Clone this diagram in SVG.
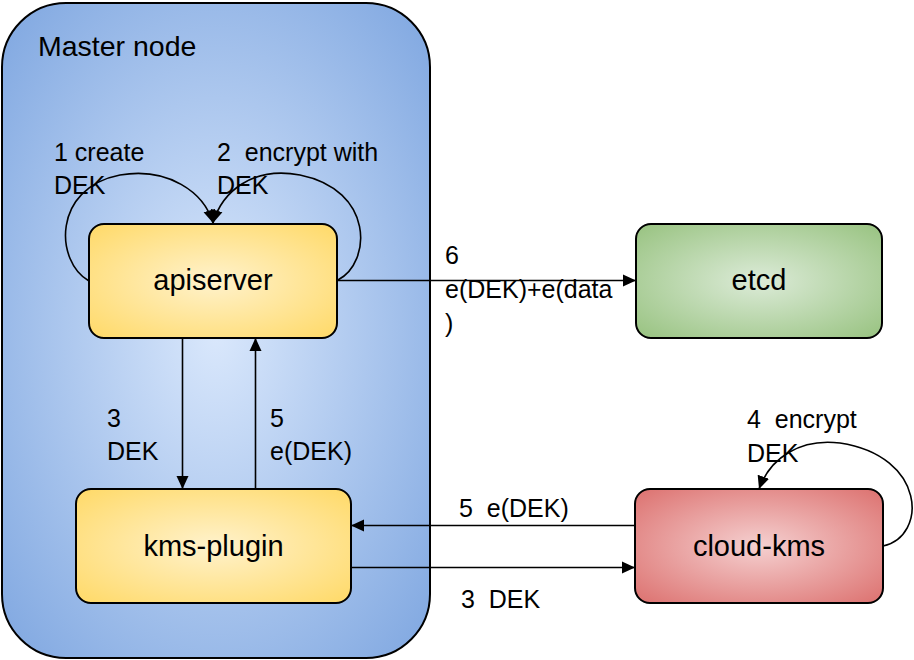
<svg xmlns="http://www.w3.org/2000/svg" width="914" height="660" viewBox="0 0 914 660">
<defs>
<radialGradient id="gBlue" cx="50%" cy="50%" r="71%"><stop offset="0" stop-color="#dae8fc"/><stop offset="1" stop-color="#7ea6e0"/></radialGradient>
<radialGradient id="gYellow" cx="50%" cy="50%" r="71%"><stop offset="0" stop-color="#fff2cc"/><stop offset="1" stop-color="#ffd966"/></radialGradient>
<radialGradient id="gGreen" cx="50%" cy="50%" r="71%"><stop offset="0" stop-color="#dcebd8"/><stop offset="1" stop-color="#97c27f"/></radialGradient>
<radialGradient id="gRed" cx="50%" cy="50%" r="71%"><stop offset="0" stop-color="#f5d0d0"/><stop offset="1" stop-color="#dc706e"/></radialGradient>
<marker id="arr" viewBox="0 0 13 13" refX="13" refY="6.5" markerWidth="13" markerHeight="13" markerUnits="userSpaceOnUse" orient="auto"><path d="M0,0.5 L13,6.5 L0,12.5 z" fill="#000"/></marker>
</defs>
<style>
.box{stroke:#000;stroke-width:2}
.edge{fill:none;stroke:#000;stroke-width:1.6;marker-end:url(#arr)}
.t{font-family:"Liberation Sans",Arial,sans-serif;fill:#000}
.node{font-size:29px;text-anchor:middle}
.lbl{font-size:25px;white-space:pre}
</style>
<g id="master-node">
<rect class="box" x="2" y="3" width="428" height="655" rx="64" fill="url(#gBlue)"/>
<text class="t" x="38" y="56" font-size="28.5">Master node</text>
</g>
<g id="apiserver">
<rect class="box" x="89" y="224" width="248" height="114" rx="15" fill="url(#gYellow)"/>
<text class="t node" x="213" y="290">apiserver</text>
</g>
<g id="etcd">
<rect class="box" x="636" y="224" width="246" height="114" rx="15" fill="url(#gGreen)"/>
<text class="t node" x="759" y="290">etcd</text>
</g>
<g id="kms-plugin">
<rect class="box" x="76" y="489" width="275" height="114" rx="15" fill="url(#gYellow)"/>
<text class="t node" x="213.5" y="556">kms-plugin</text>
</g>
<g id="cloud-kms">
<rect class="box" x="635" y="489" width="248" height="114" rx="15" fill="url(#gRed)"/>
<text class="t node" x="759" y="556">cloud-kms</text>
</g>
<g id="connectors">
<path class="edge" d="M89 281 C55 262,52 188,120 175 C168 167,204 192,213 223"/>
<path class="edge" d="M338 280 C372 262,374 190,300 175 C252 166,222 192,213 223"/>
<path class="edge" d="M337 280.5 L636 280.5"/>
<path class="edge" d="M182.5 338 L182.5 489"/>
<path class="edge" d="M255.5 489 L255.5 338"/>
<path class="edge" d="M635 525.5 L351 525.5"/>
<path class="edge" d="M351 567.5 L635 567.5"/>
<path class="edge" d="M883 546 C928 536,926 456,840 443 C800 438,770 458,759 489"/>
</g>
<g id="labels">
<text class="t lbl" x="54" y="161">1 create</text>
<text class="t lbl" x="54" y="194">DEK</text>
<text class="t lbl" x="217" y="161">2  encrypt with</text>
<text class="t lbl" x="217" y="194">DEK</text>
<text class="t lbl" x="445" y="264">6</text>
<text class="t lbl" x="445" y="298">e(DEK)+e(data</text>
<text class="t lbl" x="445" y="332">)</text>
<text class="t lbl" x="107" y="427">3</text>
<text class="t lbl" x="107" y="460">DEK</text>
<text class="t lbl" x="270" y="427">5</text>
<text class="t lbl" x="270" y="460">e(DEK)</text>
<text class="t lbl" x="747" y="428">4  encrypt</text>
<text class="t lbl" x="747" y="462">DEK</text>
<text class="t lbl" x="459" y="517">5  e(DEK)</text>
<text class="t lbl" x="461" y="608">3  DEK</text>
</g>
</svg>
